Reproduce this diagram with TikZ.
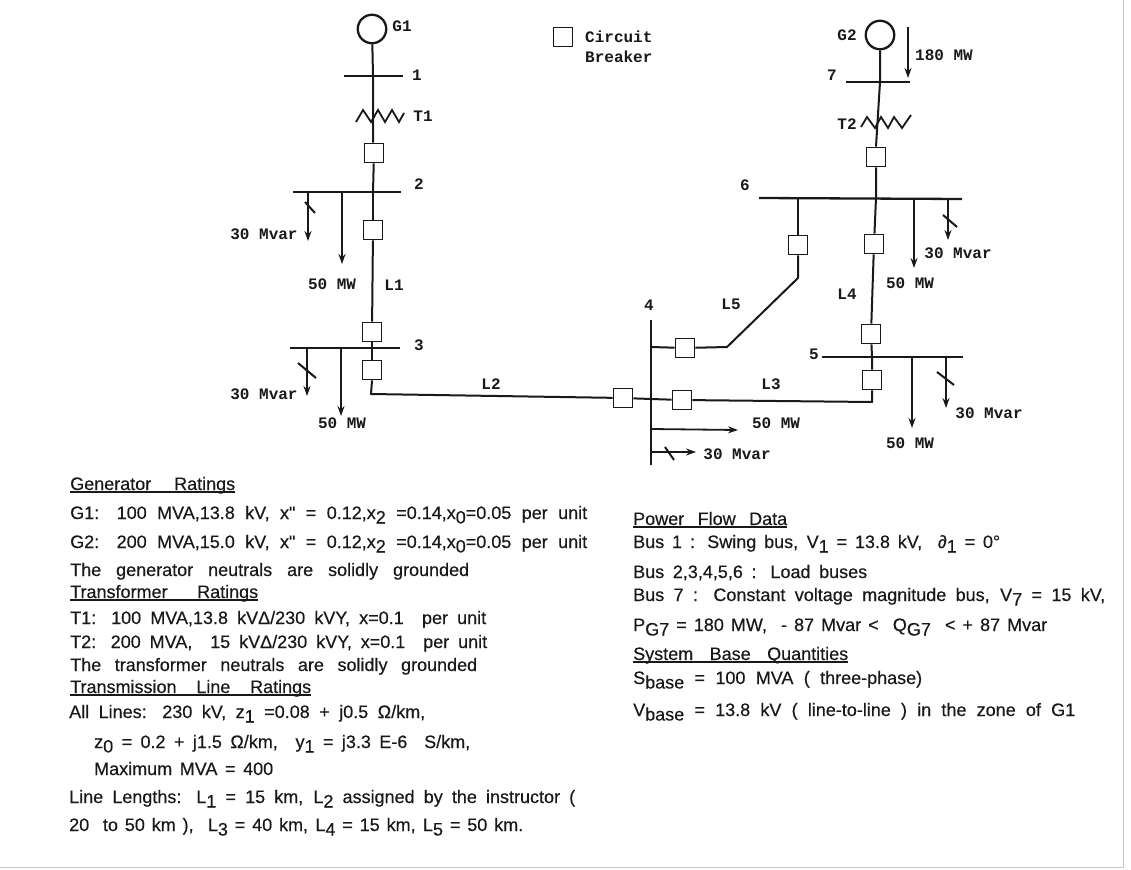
\documentclass[tikz,border=0pt]{standalone}
\usepackage{fontspec}
\setmainfont{Liberation Sans}
\newfontfamily\parafont[FakeBold=0.35]{Liberation Sans}
\newfontfamily\diagfont[BoldFont={Liberation Mono Bold}]{Liberation Mono}
\usetikzlibrary{arrows.meta}
\newcommand{\fitline}[2]{\makebox[#1pt][s]{#2}}
\newcommand{\hdrline}[2]{\rlap{\rule[-2.5pt]{#1pt}{1.3pt}}\makebox[#1pt][s]{#2}}
\newcommand{\lowsb}[1]{\raisebox{-4.5pt}{#1}}
\definecolor{ink}{gray}{0.1}
\tikzset{
  x=1pt,y=-1pt,
  wire/.style={draw=ink,line width=2pt},
  busbar/.style={draw=ink,line width=2.3pt},
  flow/.style={draw=ink,line width=1.8pt,-{Stealth[length=10pt,width=7pt]}},
  tick/.style={draw=ink,line width=2pt},
  winding/.style={draw=ink,line width=1.8pt,line join=miter},
  cbreaker/.style={draw=ink,line width=1.8pt,fill=white,minimum size=19pt,inner sep=0pt},
  gen/.style={draw=ink,line width=2.3pt,circle,minimum size=28.5pt,inner sep=0pt},
  tag/.style={text=ink,inner sep=0pt,font=\diagfont\bfseries\fontsize{16}{18}\selectfont},
  para/.style={text=ink,inner sep=0pt,anchor=base west,font=\parafont\fontsize{18}{20}\selectfont},
}
\begin{document}
\begin{tikzpicture}
\useasboundingbox (0,0) rectangle (1131,869);
\fill[white] (0,0) rectangle (1131,869);
\draw[draw=black!22,line width=1pt] (1123,0) -- (1123,867) -- (0,867);

% ---- generators, breakers
\node[gen] (g1) at (372,29) {};
\node[gen] (g2) at (880,35) {};
\node[cbreaker] (cb1) at (374,153) {};
\node[cbreaker] (cb2) at (373,230) {};
\node[cbreaker] (cb3) at (372,332) {};
\node[cbreaker] (cb4) at (372,370) {};
\node[cbreaker] (cb5) at (623,398) {};
\node[cbreaker] (cb6) at (682,400) {};
\node[cbreaker] (cb7) at (685,348) {};
\node[cbreaker] (cb8) at (872,380) {};
\node[cbreaker] (cb9) at (871,334) {};
\node[cbreaker] (cb10) at (874,244) {};
\node[cbreaker] (cb11) at (876,157) {};
\node[cbreaker] (cb12) at (798,245) {};
\node[cbreaker] (cbkey) at (563,37) {};

% ---- bus bars
\coordinate (b1l) at (344,76);   \coordinate (b1r) at (403,76);
\coordinate (b2l) at (293,192);  \coordinate (b2r) at (401,192);
\coordinate (b3l) at (290,348);  \coordinate (b3r) at (400,348);
\coordinate (b4t) at (651,320);  \coordinate (b4b) at (651,465);
\coordinate (b5l) at (822,357);  \coordinate (b5r) at (963,357);
\coordinate (b6l) at (759,198);  \coordinate (b6r) at (962,199);
\coordinate (b7l) at (846,82);   \coordinate (b7r) at (910,82);
\draw[busbar] (b1l) -- (b1r);
\draw[busbar] (b2l) -- (b2r);
\draw[busbar] (b3l) -- (b3r);
\draw[busbar] (b4t) -- (b4b);
\draw[busbar] (b5l) -- (b5r);
\draw[busbar] (b6l) -- (b6r);
\draw[busbar] (b7l) -- (b7r);

% ---- tap points on the buses
\coordinate (t1) at (373,76);
\coordinate (t2) at (373,192);
\coordinate (t3) at (372,348);
\coordinate (t4a) at (651,347);
\coordinate (t4b) at (651,399);
\coordinate (t5) at (872,357);
\coordinate (t6a) at (798,198);
\coordinate (t6b) at (876,198);
\coordinate (t7) at (880,82);

% ---- lines
\draw[wire] (g1) -- (t1) -- (cb1.north -| t1);
\draw[wire] (cb1) -- (t2);
\draw[wire] (t2) -- (cb2);
\draw[wire] (cb2) -- (cb3);
\draw[wire] (cb3) -- (t3) -- (cb4);
\coordinate (l2c) at (371,394);
\draw[wire,line join=round] (cb4.south) -- (l2c) -- (cb5);
\draw[wire] (cb5) -- (t4b) -- (cb6);
\coordinate (l3c) at (872,402);
\draw[wire,line join=round] (cb6) -- (l3c) -- (cb8);
\draw[wire] (cb8) -- (t5) -- (cb9);
\draw[wire] (cb9) -- (cb10);
\draw[wire] (cb10) -- (t6b) -- (cb11);
\draw[wire] (cb11.north) -- (t7) -- (g2);
\draw[wire] (t4a) -- (cb7);
\coordinate (l5a) at (727,347);
\coordinate (l5b) at (798,278);
\draw[wire,line join=round] (cb7) -- (l5a) -- (l5b) -- (cb12);
\draw[wire] (cb12) -- (t6a);

% ---- transformers
\draw[winding] (356,122) -- (363,110) -- (371,122) -- (378,110) -- (385,122) -- (392,110) -- (399,122) -- (404,113);
\draw[winding] (861,127) -- (867,117) -- (875,128) -- (881,117) -- (888,128) -- (894,117) -- (902,128) -- (911,115);

% ---- loads
\coordinate (a1s) at (308,192); \coordinate (a1e) at (308,241);
\coordinate (a2s) at (342,192); \coordinate (a2e) at (342,264);
\coordinate (a3s) at (307,348); \coordinate (a3e) at (307,396);
\coordinate (a4s) at (341,348); \coordinate (a4e) at (341,416);
\coordinate (a5s) at (914,198); \coordinate (a5e) at (914,268);
\coordinate (a6s) at (948,198); \coordinate (a6e) at (948,240);
\coordinate (a7s) at (912,357); \coordinate (a7e) at (912,428);
\coordinate (a8s) at (946,357); \coordinate (a8e) at (946,408);
\coordinate (a9s) at (651,429); \coordinate (a9e) at (738,430);
\coordinate (a10s) at (651,452); \coordinate (a10e) at (696,452);
\coordinate (a11s) at (908,27); \coordinate (a11e) at (908,78);
\foreach \n in {1,...,11} \draw[flow] (a\n s) -- (a\n e);
\draw[tick] (305,202) -- (315,213);
\draw[tick] (298,363) -- (316,378);
\draw[tick] (943,215) -- (957,227);
\draw[tick] (937,372) -- (954,385);
\draw[tick] (665,447) -- (674,460);

% ---- diagram labels
\node[tag] (lg1) at (402,26) {G1};
\node[tag] (lg2) at (847,35) {G2};
\node[tag] (lb1) at (417,75) {1};
\node[tag] (lb2) at (419,184) {2};
\node[tag] (lb3) at (419,345) {3};
\node[tag] (lb4) at (649,305) {4};
\node[tag] (lb5) at (814,354) {5};
\node[tag] (lb6) at (745,185) {6};
\node[tag] (lb7) at (832,75) {7};
\node[tag] (lt1) at (423,116) {T1};
\node[tag] (lt2) at (847,124) {T2};
\node[tag] (ll1) at (394,285) {L1};
\node[tag] (ll2) at (491,384) {L2};
\node[tag] (ll3) at (771,384) {L3};
\node[tag] (ll4) at (847,294) {L4};
\node[tag] (ll5) at (731,304) {L5};
\node[tag] (q1) at (264,234) {30 Mvar};
\node[tag] (p1) at (332,284) {50 MW};
\node[tag] (q2) at (264,394) {30 Mvar};
\node[tag] (p2) at (342,423) {50 MW};
\node[tag] (q3) at (958,253) {30 Mvar};
\node[tag] (p3) at (910,283) {50 MW};
\node[tag] (q4) at (989,413) {30 Mvar};
\node[tag] (p4) at (910,443) {50 MW};
\node[tag] (p5) at (776,423) {50 MW};
\node[tag] (q5) at (737,454) {30 Mvar};
\node[tag] (pg) at (944,55) {180 MW};
\node[tag,anchor=west] (kc) at (585,37) {Circuit};
\node[tag,anchor=west] (kb) at (585,57) {Breaker};

% ---- left column
\node[para] (h1) at (70,490) {\hdrline{165}{Generator Ratings}};
\node[para] (s1) at (70,519) {\fitline{517}{G1: 100 MVA,13.8 kV, x" = 0.12,x\lowsb{2} =0.14,x\lowsb{0}=0.05 per unit}};
\node[para] (s2) at (70,548) {\fitline{517}{G2: 200 MVA,15.0 kV, x" = 0.12,x\lowsb{2} =0.14,x\lowsb{0}=0.05 per unit}};
\node[para] (s3) at (70,576) {\fitline{399}{The generator neutrals are solidly grounded}};
\node[para] (h2) at (70,598) {\hdrline{188}{Transformer Ratings}};
\node[para] (s4) at (70,624) {\fitline{416}{T1: 100 MVA,13.8 kVΔ/230 kVY, x=0.1 \ per unit}};
\node[para] (s5) at (70,648) {\fitline{417}{T2: 200 MVA, \ 15 kVΔ/230 kVY, x=0.1 \ per unit}};
\node[para] (s6) at (70,671) {\fitline{407}{The transformer neutrals are solidly grounded}};
\node[para] (h3) at (70,693) {\hdrline{241}{Transmission Line Ratings}};
\node[para] (s7) at (69,718) {\fitline{356}{All Lines: 230 kV, z\lowsb{1} =0.08 + j0.5 Ω/km,}};
\node[para] (s8) at (94,748) {\fitline{376}{z\lowsb{0} = 0.2 + j1.5 Ω/km, \ y\lowsb{1} = j3.3 E-6 \ S/km,}};
\node[para] (s9) at (94,775) {\fitline{179}{Maximum MVA = 400}};
\node[para] (s10) at (69,803) {\fitline{506}{Line Lengths: L\lowsb{1} = 15 km, L\lowsb{2} assigned by the instructor (}};
\node[para] (s11) at (69,831) {\fitline{454}{20 \ to 50 km ), \ L\lowsb{3} = 40 km, L\lowsb{4} = 15 km, L\lowsb{5} = 50 km.}};

% ---- right column
\node[para] (h4) at (633,525) {\hdrline{154}{Power Flow Data}};
\node[para] (r1) at (633,548) {\fitline{367}{Bus 1 : Swing bus, V\lowsb{1} = 13.8 kV, \ ∂\lowsb{1} = 0°}};
\node[para] (r2) at (633,578) {\fitline{234}{Bus 2,3,4,5,6 : Load buses}};
\node[para] (r3) at (633,601) {\fitline{472}{Bus 7 : Constant voltage magnitude bus, V\lowsb{7} = 15 kV,}};
\node[para] (r4) at (633,631) {\fitline{414}{P\lowsb{G7} = 180 MW, \ - 87 Mvar < \ Q\lowsb{G7} \ < + 87 Mvar}};
\node[para] (h5) at (633,660) {\hdrline{215}{System Base Quantities}};
\node[para] (r5) at (633,684) {\fitline{289}{S\lowsb{base} = 100 MVA ( three-phase)}};
\node[para] (r6) at (633,716) {\fitline{442}{V\lowsb{base} = 13.8 kV ( line-to-line ) in the zone of G1}};
\end{tikzpicture}
\end{document}
